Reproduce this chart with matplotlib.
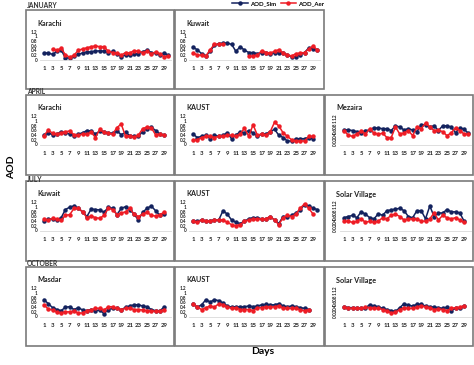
import numpy as np
import matplotlib
matplotlib.use('Agg')
import matplotlib.pyplot as plt
from matplotlib.patches import Rectangle

plt.rcParams['font.family'] = ['Lato', 'DejaVu Sans']
plt.rcParams['font.weight'] = 'bold'

nan = np.nan

# January
jan_karachi_sim = [0.28, 0.28, 0.22, 0.35, 0.42, 0.05, 0.08, 0.15, 0.22, 0.28, 0.32, 0.33, 0.36, 0.37, 0.35,
                   0.30, 0.35, 0.25, 0.12, 0.20, 0.20, 0.22, 0.25, 0.33, 0.40, 0.30, 0.28, 0.20, 0.28, 0.18]
jan_karachi_aer = [nan, nan, 0.45, 0.40, 0.48, 0.20, 0.10, 0.18, 0.40, 0.45, 0.50, 0.55, 0.58, 0.55, 0.55,
                   0.35, 0.30, 0.28, 0.18, 0.30, 0.28, 0.38, 0.35, 0.30, 0.35, 0.25, 0.32, 0.25, 0.12, 0.15]
jan_kuwait_sim = [0.52, 0.42, 0.25, 0.15, 0.35, 0.62, 0.68, 0.70, 0.70, 0.65, 0.35, 0.55, 0.40, 0.30, 0.30,
                  0.25, 0.30, 0.30, 0.22, 0.30, 0.30, 0.30, 0.18, 0.12, 0.12, 0.20, 0.30, 0.50, 0.45, 0.40]
jan_kuwait_aer = [0.28, 0.20, 0.18, 0.15, 0.42, 0.65, 0.65, 0.68, nan, nan, nan, nan, nan, 0.14, 0.15,
                  0.18, 0.38, 0.30, 0.28, 0.35, 0.42, 0.28, 0.20, 0.15, 0.25, 0.28, 0.30, 0.45, 0.58, 0.40]

# April
apr_karachi_sim = [0.42, 0.50, 0.42, 0.45, 0.55, 0.50, 0.45, 0.38, 0.45, 0.50, 0.60, 0.58, 0.45, 0.58, 0.55,
                   0.50, 0.48, 0.58, 0.42, 0.52, 0.38, 0.35, 0.35, 0.55, 0.68, 0.75, 0.60, 0.45, 0.40]
apr_karachi_aer = [0.38, 0.62, 0.48, 0.45, 0.50, 0.55, 0.58, 0.42, 0.40, 0.45, 0.45, 0.52, 0.30, 0.65, 0.52,
                   0.48, 0.45, 0.72, 0.88, 0.35, 0.38, 0.32, 0.40, 0.68, 0.75, 0.72, 0.42, 0.45, 0.40]
apr_kaust_sim = [0.45, 0.30, 0.35, 0.40, 0.25, 0.40, 0.35, 0.40, 0.50, 0.25, 0.40, 0.55, 0.50, 0.60, 0.50,
                 0.35, 0.45, 0.45, 0.55, 0.65, 0.40, 0.30, 0.15, 0.15, 0.25, 0.25, 0.25, 0.30, 0.25]
apr_kaust_aer = [0.20, 0.20, 0.30, 0.35, 0.35, 0.30, 0.35, 0.35, 0.40, 0.40, 0.35, 0.45, 0.70, 0.35, 0.85,
                 0.40, 0.45, 0.40, 0.55, 0.95, 0.80, 0.50, 0.35, 0.20, 0.15, 0.15, 0.15, 0.35, 0.35]
apr_mezaira_sim = [0.63, 0.62, 0.60, 0.55, 0.50, 0.60, 0.62, 0.72, 0.70, 0.68, 0.68, 0.60, 0.80, 0.75, 0.62,
                   0.68, 0.62, 0.55, 0.85, 0.85, 0.75, 0.80, 0.60, 0.80, 0.80, 0.75, 0.50, 0.72, 0.65, 0.48]
apr_mezaira_aer = [0.60, 0.40, 0.35, 0.45, 0.60, 0.45, 0.68, 0.48, 0.45, 0.48, 0.30, 0.30, 0.75, 0.45, 0.50,
                   0.60, 0.38, 0.75, 0.68, 0.92, 0.75, 0.60, 0.62, 0.55, 0.38, 0.50, 0.72, 0.60, 0.45, 0.45]

# July
jul_kuwait_sim = [0.40, 0.48, 0.50, 0.45, 0.55, 0.90, 1.00, 1.05, 0.95, 0.80, 0.60, 0.92, 0.90, 0.88, 0.78,
                  1.00, 0.95, 0.68, 0.95, 1.02, 0.90, 0.70, 0.45, 0.78, 0.95, 1.05, 0.85, 0.65, 0.72]
jul_kuwait_aer = [0.50, 0.45, 0.52, 0.50, 0.45, 0.65, 0.68, 0.95, 0.95, 0.80, 0.55, 0.62, 0.55, 0.52, 0.65,
                  0.95, 0.90, 0.68, 0.75, 0.80, 0.95, 0.70, 0.60, 0.70, 0.78, 0.65, 0.62, 0.68, 0.78]
jul_kaust_sim = [0.40, 0.40, 0.45, 0.40, 0.42, 0.45, 0.45, 0.85, 0.70, 0.45, 0.35, 0.30, 0.40, 0.50, 0.55,
                 0.55, 0.50, 0.50, 0.60, 0.45, 0.30, 0.60, 0.60, 0.65, 0.75, 0.90, 1.10, 1.05, 0.95, 0.90]
jul_kaust_aer = [0.40, 0.35, 0.45, 0.40, 0.40, 0.45, 0.45, 0.45, 0.35, 0.25, 0.20, 0.25, 0.40, 0.45, 0.50,
                 0.50, 0.50, 0.50, 0.60, 0.45, 0.25, 0.55, 0.65, 0.60, 0.70, 0.95, 1.15, 0.95, 0.70]
jul_solar_sim = [0.55, 0.60, 0.65, 0.55, 0.80, 0.70, 0.55, 0.50, 0.72, 0.65, 0.85, 0.88, 0.92, 0.95, 0.85,
                 0.60, 0.55, 0.85, 0.85, 0.50, 1.05, 0.60, 0.75, 0.75, 0.90, 0.80, 0.80, 0.75, 0.40]
jul_solar_aer = [0.40, 0.40, 0.35, 0.40, 0.50, 0.35, 0.40, 0.35, 0.40, 0.55, 0.50, 0.65, 0.70, 0.60, 0.45,
                 0.50, 0.50, 0.50, 0.40, 0.40, 0.50, 0.75, 0.45, 0.65, 0.55, 0.50, 0.55, 0.45, 0.35]

# October
oct_masdar_sim = [0.72, 0.55, 0.38, 0.30, 0.25, 0.40, 0.42, 0.30, 0.38, 0.28, 0.25, 0.30, 0.25, 0.28, 0.12,
                  0.30, 0.35, 0.35, 0.28, 0.40, 0.45, 0.50, 0.50, 0.45, 0.42, 0.30, 0.25, 0.25, 0.40]
oct_masdar_aer = [0.50, 0.32, 0.28, 0.18, 0.15, 0.20, 0.20, 0.22, 0.15, 0.15, 0.25, 0.28, 0.35, 0.35, 0.28,
                  0.42, 0.42, 0.35, 0.30, 0.35, 0.35, 0.30, 0.30, 0.28, 0.25, 0.25, 0.22, 0.22, 0.30]
oct_kaust_sim = [0.55, 0.40, 0.50, 0.72, 0.62, 0.72, 0.68, 0.58, 0.45, 0.40, 0.42, 0.42, 0.42, 0.45, 0.42,
                 0.45, 0.50, 0.52, 0.50, 0.50, 0.55, 0.45, 0.42, 0.45, 0.42, 0.38, 0.35, 0.30]
oct_kaust_aer = [0.55, 0.40, 0.30, 0.38, 0.45, 0.40, 0.55, 0.50, 0.42, 0.35, 0.38, 0.30, 0.30, 0.30, 0.25,
                 0.38, 0.38, 0.42, 0.40, 0.42, 0.45, 0.35, 0.35, 0.35, 0.35, 0.28, 0.25, 0.30]
oct_solar_sim = [0.42, 0.38, 0.38, 0.38, 0.35, 0.38, 0.50, 0.45, 0.42, 0.35, 0.30, 0.25, 0.22, 0.38, 0.55,
                 0.48, 0.45, 0.52, 0.52, 0.45, 0.42, 0.40, 0.38, 0.35, 0.40, 0.25, 0.35, 0.38, 0.45]
oct_solar_aer = [0.40, 0.35, 0.35, 0.35, 0.35, 0.40, 0.38, 0.35, 0.35, 0.30, 0.25, 0.15, 0.18, 0.30, 0.38,
                 0.35, 0.35, 0.40, 0.45, 0.42, 0.38, 0.30, 0.32, 0.30, 0.25, 0.35, 0.38, 0.40, 0.45]

months = ['JANUARY', 'APRIL', 'JULY', 'OCTOBER']
# (row, col, title, sim, aer, rotated y labels)
panels = [
    (0, 0, 'Karachi', jan_karachi_sim, jan_karachi_aer, False),
    (0, 1, 'Kuwait', jan_kuwait_sim, jan_kuwait_aer, False),
    (1, 0, 'Karachi', apr_karachi_sim, apr_karachi_aer, False),
    (1, 1, 'KAUST', apr_kaust_sim, apr_kaust_aer, False),
    (1, 2, 'Mezaira', apr_mezaira_sim, apr_mezaira_aer, True),
    (2, 0, 'Kuwait', jul_kuwait_sim, jul_kuwait_aer, False),
    (2, 1, 'KAUST', jul_kaust_sim, jul_kaust_aer, False),
    (2, 2, 'Solar Village', jul_solar_sim, jul_solar_aer, True),
    (3, 0, 'Masdar', oct_masdar_sim, oct_masdar_aer, False),
    (3, 1, 'KAUST', oct_kaust_sim, oct_kaust_aer, False),
    (3, 2, 'Solar Village', oct_solar_sim, oct_solar_aer, True),
]

W, H = 474, 365
fig = plt.figure(figsize=(W / 100, H / 100), dpi=100)

col_px = [(26, 174), (175, 324), (325, 473)]
row_px = [(10, 89), (95, 175), (181, 261), (267, 346)]
month_y = [6, 92, 179, 264]

sim_color = '#13225e'
aer_color = '#ee1c25'
px_day = 4.29


def fx(x):
    return x / W


def fy(y):
    return 1 - y / H


for m, yy in zip(months, month_y):
    fig.text(fx(27), fy(yy), m, fontsize=4.8, fontweight='bold', color='#333333', va='center', ha='left')

handles = None
for row, col, title, sim, aer, rot in panels:
    bl, br = col_px[col]
    bt, bb = row_px[row]
    fig.patches.append(Rectangle((fx(bl), fy(bb)), fx(br - bl), (bb - bt) / H, transform=fig.transFigure,
                                 fill=False, edgecolor='#7a7a7a', linewidth=1.2))
    fig.text(fx(bl + 11), fy(bt + 13), title, fontsize=5.2, fontweight='bold', color='#222222',
             va='center', ha='left')
    day1 = bl + (19 if rot else 18)
    ax_left = day1 - px_day
    ax_w = 30.5 * px_day
    ax_top = bt + 21.5
    ax_bot = bt + 49.5
    ax = fig.add_axes([fx(ax_left), fy(ax_bot), fx(ax_w), (ax_bot - ax_top) / H])
    d1 = np.arange(1, len(sim) + 1)
    d2 = np.arange(1, len(aer) + 1)
    l1, = ax.plot(d1, sim, color=sim_color, lw=1.1, marker='o', ms=2.2, clip_on=False, label='AOD_Sim')
    l2, = ax.plot(d2, aer, color=aer_color, lw=1.1, marker='o', ms=2.2, clip_on=False, label='AOD_Aer')
    handles = [l1, l2]
    ax.set_xlim(0, 30.5)
    ax.set_ylim(0, 1.2)
    ax.set_xticks(range(1, 30, 2))
    ax.set_yticks([0, 0.2, 0.4, 0.6, 0.8, 1.0, 1.2])
    ax.set_yticklabels(['0', '0.2', '0.4', '0.6', '0.8', '1', '1.2'])
    ax.tick_params(axis='x', length=0, pad=4.5, labelsize=4.3, labelcolor='#222222')
    ax.tick_params(axis='y', length=0, pad=1.5, labelsize=3.3, labelcolor='#222222')
    if rot:
        for t in ax.get_yticklabels():
            t.set_rotation(90)
            t.set_va('center')
    for s in ['top', 'right', 'left']:
        ax.spines[s].set_visible(False)
    ax.spines['bottom'].set_color('#d9d9d9')
    ax.spines['bottom'].set_linewidth(0.6)
    ax.patch.set_alpha(0)

fig.legend(handles=handles, loc='center right', bbox_to_anchor=(fx(324), fy(4)), ncol=2, frameon=False,
           fontsize=4.3, handlelength=2.6, columnspacing=0.8, handletextpad=0.3, borderpad=0, borderaxespad=0)

fig.text(fx(12), fy(167), 'AOD', rotation=90, fontsize=7.5, fontweight='bold', ha='center', va='center')
fig.text(fx(263), fy(352), 'Days', fontsize=7.5, fontweight='bold', ha='center', va='center')

fig.savefig('out.png', dpi=100)
